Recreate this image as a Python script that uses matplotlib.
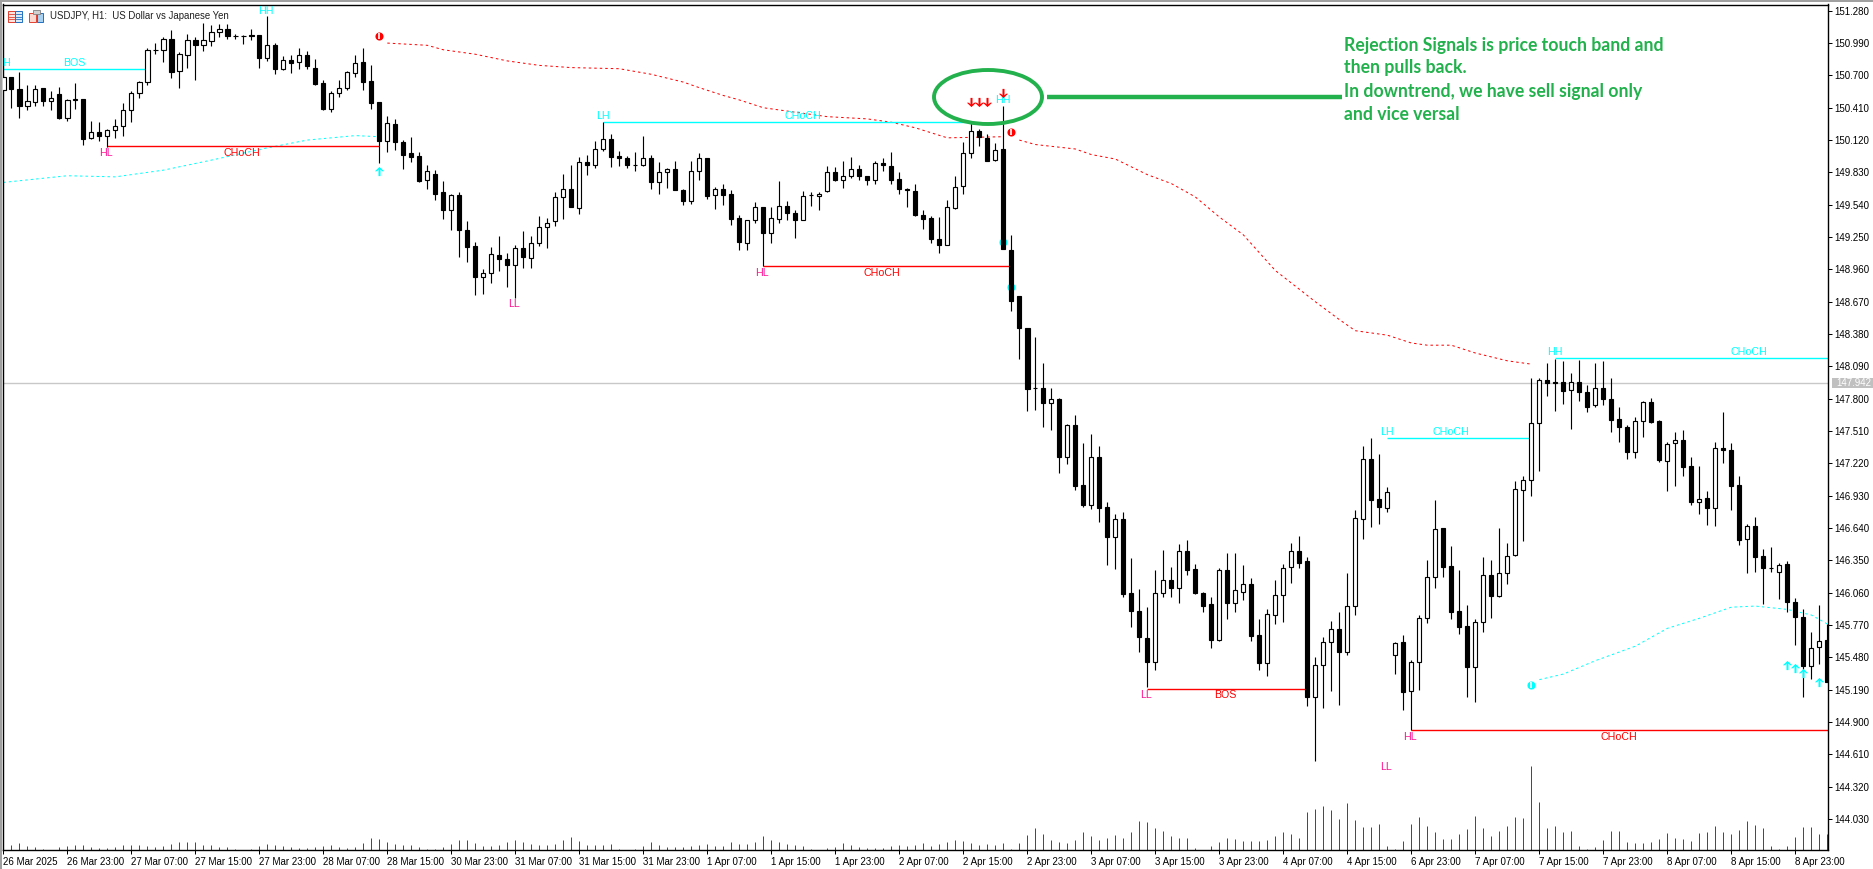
import numpy as np
import matplotlib
matplotlib.use('Agg')
import matplotlib.pyplot as plt
from matplotlib.patches import Ellipse, Rectangle

# candles, USDJPY H1
opens = [150.57,150.69,150.58,150.43,150.46,150.59,150.47,150.53,150.32,150.48,
         150.49,150.14,150.19,150.16,150.21,150.25,150.39,150.54,150.64,150.93,
         150.93,151.03,150.74,150.88,151.02,150.97,151.01,151.09,151.12,151.05,
         151.05,151.06,151.06,150.86,150.97,150.76,150.84,150.82,150.88,150.77,
         150.63,150.40,150.54,150.59,150.72,150.82,150.65,150.46,150.11,150.26,
         150.10,150.00,149.98,149.76,149.82,149.65,149.49,149.63,149.31,149.17,
         148.89,148.93,149.09,149.05,149.00,149.15,149.06,149.20,149.34,149.39,
         149.61,149.68,149.51,149.92,149.90,150.04,150.13,149.98,149.96,149.90,
         149.90,149.96,149.74,149.83,149.86,149.67,149.57,149.84,149.96,149.63,
         149.68,149.64,149.42,149.20,149.40,149.52,149.29,149.41,149.53,149.47,
         149.40,149.63,149.62,149.66,149.83,149.76,149.80,149.86,149.80,149.76,
         149.91,149.89,149.77,149.68,149.66,149.45,149.42,149.23,149.18,149.51,
         149.71,150.00,150.20,150.14,149.94,150.04,149.13,148.72,148.43,147.90,
         147.90,147.76,147.80,147.28,147.56,147.03,146.85,147.28,146.83,146.56,
         146.72,146.06,145.90,145.65,145.44,146.06,146.17,146.10,146.43,146.27,
         146.06,145.96,145.64,146.26,145.97,146.07,146.14,145.68,145.43,145.86,
         146.04,146.29,146.43,146.34,145.12,145.41,145.62,145.73,145.53,145.94,
         146.72,147.26,146.90,146.82,145.50,145.62,145.18,145.44,145.83,146.20,
         146.64,146.30,145.90,145.76,145.39,145.80,146.22,146.03,146.24,146.40,
         146.98,147.07,147.58,147.97,147.95,147.95,147.88,147.95,147.86,147.74,
         147.90,147.80,147.62,147.55,147.32,147.60,147.77,147.60,147.24,147.40,
         147.43,147.20,146.87,146.91,146.82,147.36,147.34,147.03,146.54,146.66,
         146.39,146.28,146.25,146.32,145.98,145.84,145.40,145.57,145.64]
highs = [150.70,150.69,150.73,150.61,150.61,150.59,150.56,150.60,150.49,150.63,
         150.49,150.29,150.28,150.22,150.31,150.45,150.56,150.65,150.95,150.99,
         151.04,151.11,150.91,151.07,151.04,151.17,151.15,151.16,151.16,151.07,
         151.06,151.12,151.06,151.23,150.99,150.87,150.88,150.95,150.92,150.85,
         150.66,150.56,150.66,150.74,150.88,150.95,150.79,150.46,150.34,150.31,
         150.12,150.15,150.01,149.90,149.85,149.75,149.64,149.65,149.39,149.21,
         148.96,149.16,149.26,149.11,149.18,149.30,149.26,149.44,149.42,149.65,
         149.82,149.90,149.97,149.99,150.11,150.28,150.17,150.02,149.98,150.01,
         150.16,149.99,149.92,149.87,149.93,149.68,149.93,150.00,149.96,149.70,
         149.73,149.67,149.45,149.40,149.56,149.52,149.52,149.75,149.57,149.49,
         149.66,149.65,149.65,149.89,149.88,149.93,149.97,149.90,149.80,149.93,
         149.96,150.01,149.83,149.69,149.73,149.49,149.44,149.43,149.58,149.80,
         150.10,150.27,150.22,150.17,150.09,150.43,149.27,148.72,148.43,148.35,
         148.12,147.90,147.81,147.57,147.65,147.40,147.48,147.38,146.87,146.77,
         146.78,146.37,146.09,145.93,146.26,146.44,146.29,146.50,146.53,146.32,
         146.07,146.02,146.28,146.42,146.42,146.31,146.19,145.82,145.91,146.17,
         146.32,146.51,146.57,146.38,145.48,145.66,145.81,145.89,146.24,146.80,
         147.38,147.45,147.30,147.01,145.62,145.68,145.46,145.86,146.35,146.89,
         146.64,146.48,146.26,145.95,145.82,146.38,146.35,146.64,146.51,147.06,
         147.11,147.99,147.99,148.12,148.16,148.14,148.03,148.15,147.92,148.12,
         148.14,147.99,147.73,147.56,147.64,147.78,147.81,147.61,147.41,147.50,
         147.52,147.28,147.20,146.97,147.41,147.68,147.40,147.11,146.68,146.74,
         146.45,146.47,146.33,146.34,146.01,145.91,145.71,145.95,145.78]
lows = [150.56,150.41,150.32,150.39,150.43,150.43,150.39,150.31,150.29,150.40,
        150.08,150.13,150.11,150.06,150.14,150.16,150.28,150.50,150.61,150.89,
        150.82,150.68,150.59,150.77,150.66,150.92,150.96,151.04,151.03,151.03,
        150.98,151.02,150.77,150.83,150.71,150.75,150.72,150.76,150.76,150.61,
        150.39,150.37,150.51,150.57,150.69,150.57,150.40,149.91,150.01,150.03,
        149.86,149.92,149.74,149.68,149.58,149.41,149.31,149.07,149.03,148.73,
        148.74,148.84,148.95,148.80,148.70,148.97,148.97,149.17,149.15,149.35,
        149.41,149.52,149.46,149.81,149.87,150.02,149.88,149.89,149.87,149.84,
        149.89,149.68,149.64,149.69,149.67,149.54,149.55,149.76,149.59,149.50,
        149.54,149.36,149.13,149.13,149.38,148.99,149.20,149.38,149.40,149.24,
        149.40,149.53,149.49,149.65,149.75,149.69,149.78,149.76,149.72,149.73,
        149.84,149.73,149.64,149.52,149.44,149.32,149.20,149.11,149.18,149.50,
        149.64,149.96,150.07,149.93,149.93,149.14,148.59,148.16,147.69,147.70,
        147.55,147.52,147.13,147.21,146.98,146.83,146.81,146.69,146.31,146.27,
        146.02,145.75,145.53,145.21,145.37,146.02,146.02,145.97,146.22,146.05,
        145.89,145.56,145.63,145.82,145.89,145.99,145.63,145.37,145.31,145.78,
        145.80,146.15,146.28,145.04,144.55,145.03,145.18,145.05,145.50,145.86,
        146.54,146.65,146.68,146.78,145.33,145.01,144.83,145.19,145.79,146.10,
        146.20,145.82,145.69,145.12,145.08,145.71,145.83,146.02,146.14,146.39,
        146.52,146.93,147.15,147.82,147.69,147.75,147.53,147.78,147.68,147.73,
        147.74,147.50,147.41,147.26,147.27,147.46,147.58,147.23,146.97,147.02,
        147.11,146.85,146.77,146.67,146.66,147.22,146.80,146.49,146.24,146.25,
        145.96,146.25,146.00,145.89,145.59,145.12,145.29,145.42,145.26]
closes = [150.69,150.58,150.43,150.47,150.58,150.47,150.50,150.32,150.48,150.49,
          150.13,150.19,150.16,150.21,150.25,150.39,150.54,150.64,150.93,150.93,
          151.03,150.73,150.89,151.02,150.97,151.02,151.09,151.12,151.05,151.05,
          151.05,151.05,150.86,150.97,150.76,150.84,150.81,150.88,150.78,150.62,
          150.40,150.54,150.59,150.73,150.81,150.64,150.45,150.11,150.27,150.10,
          149.99,149.97,149.75,149.84,149.64,149.49,149.63,149.31,149.16,148.89,
          148.93,149.10,149.05,149.00,149.15,149.07,149.20,149.34,149.38,149.61,
          149.68,149.52,149.92,149.90,150.04,150.13,149.97,149.96,149.90,149.90,
          149.96,149.74,149.83,149.86,149.67,149.57,149.84,149.96,149.62,149.68,
          149.63,149.41,149.21,149.40,149.52,149.29,149.42,149.53,149.47,149.40,
          149.62,149.63,149.64,149.83,149.76,149.80,149.86,149.80,149.76,149.91,
          149.90,149.76,149.68,149.67,149.45,149.41,149.23,149.18,149.52,149.70,
          150.00,150.20,150.15,149.93,150.03,149.14,148.68,148.43,147.89,147.90,
          147.76,147.80,147.28,147.56,147.02,146.85,147.28,146.82,146.56,146.72,
          146.05,145.90,145.66,145.44,146.06,146.17,146.10,146.43,146.26,146.06,
          145.94,145.64,146.26,145.97,146.08,146.14,145.67,145.43,145.87,146.04,
          146.28,146.43,146.33,145.12,145.41,145.62,145.73,145.53,145.94,146.73,
          147.26,146.89,146.83,146.96,145.61,145.17,145.44,145.83,146.20,146.63,
          146.29,145.89,145.75,145.39,145.80,146.22,146.03,146.24,146.39,146.99,
          147.07,147.58,147.97,147.94,147.94,147.87,147.95,147.86,147.73,147.90,
          147.80,147.61,147.55,147.32,147.60,147.77,147.59,147.25,147.39,147.43,
          147.19,146.87,146.90,146.82,147.36,147.34,147.02,146.53,146.66,146.38,
          146.28,146.28,146.31,145.98,145.84,145.40,145.56,145.63,145.26]
volumes = [0,16,22,13,9,4,0,10,12,16,
           16,10,7,6,9,14,16,16,11,10,
           11,19,25,25,23,16,16,10,9,3,
           1,4,11,19,16,11,10,7,6,10,
           13,16,9,7,10,21,37,34,25,18,
           16,14,10,3,3,10,19,30,29,22,
           13,13,16,25,31,25,19,15,16,19,
           31,40,28,16,16,16,19,3,1,3,
           13,25,16,10,10,10,13,16,19,13,
           13,25,19,19,25,43,31,25,19,16,
           13,3,1,6,10,22,16,10,7,7,
           7,13,16,13,16,22,13,19,25,31,
           28,22,16,19,16,22,4,22,46,67,
           49,31,25,22,31,55,43,31,37,46,
           37,55,88,85,67,58,43,37,37,7,
           0,13,25,37,34,28,28,28,31,43,
           55,49,37,115,124,133,121,94,142,91,
           70,70,79,13,4,28,79,100,73,55,
           34,34,49,64,103,67,43,58,73,100,
           97,252,145,67,73,55,58,13,4,10,
           31,58,58,25,22,22,25,34,52,37,
           34,28,52,55,73,55,49,61,88,76,
           67,13,2,13,40,70,70,49,49]

# bands, (bar, price) as read
red_band1_x = [48,53,55,59,63,67,71,77,81,85,87,90,92,95,99,103,108,111,114,118,125]
red_band1_y = [150.99,150.97,150.93,150.89,150.83,150.79,150.77,150.76,150.71,150.64,150.59,
               150.52,150.48,150.41,150.37,150.33,150.31,150.28,150.23,150.14,150.15]
red_band2_x = [127,129,134,136,139,143,146,149,152,155,159,164,167,169,173,176,178,181,184,188,191]
red_band2_y = [150.12,150.08,150.04,149.99,149.95,149.81,149.73,149.61,149.43,149.27,148.95,
               148.67,148.51,148.41,148.37,148.30,148.28,148.28,148.21,148.14,148.11]
cyan_band1_x = [0,8,14,20,26,33,38,44,47]
cyan_band1_y = [149.74,149.80,149.79,149.85,149.94,150.05,150.12,150.16,150.15]
cyan_band2_x = [192,195,199,204,208,212,216,219,223,226,228]
cyan_band2_y = [145.28,145.33,145.45,145.58,145.74,145.83,145.93,145.94,145.91,145.86,145.78]

# structure lines: start bar, end bar, price, colour
struct_lines = [(-1, 18, 150.755, '#00ffff'), (13, 47, 150.064, '#ff0000'),
                (75, 121, 150.279, '#00ffff'), (95, 126, 148.99, '#ff0000'),
                (143, 163, 145.20, '#ff0000'), (176, 229, 144.83, '#ff0000'),
                (173, 191, 147.447, '#00ffff'), (194, 229, 148.162, '#00ffff')]
# labels: bar, price, text, colour
struct_labels = [(0.3, 150.81, 'H', '#00ffff'), (8.9, 150.81, 'BOS', '#00ffff'),
                 (32.8, 151.28, 'HH', '#00ffff'), (12.8, 150.0, 'HL', '#ff1493'),
                 (29.8, 150.0, 'CHoCH', '#ff0000'), (63.9, 148.65, 'LL', '#ff1493'),
                 (74.9, 150.335, 'LH', '#00ffff'), (99.9, 150.335, 'CHoCH', '#00ffff'),
                 (94.8, 148.93, 'HL', '#ff1493'), (109.8, 148.93, 'CHoCH', '#ff0000'),
                 (124.9, 150.48, 'HH', '#00ffff'), (142.8, 145.14, 'LL', '#ff1493'),
                 (152.8, 145.14, 'BOS', '#ff0000'), (172.9, 144.50, 'LL', '#ff1493'),
                 (175.8, 144.765, 'HL', '#ff1493'), (201.9, 144.765, 'CHoCH', '#ff0000'),
                 (172.9, 147.50, 'LH', '#00ffff'), (180.9, 147.50, 'CHoCH', '#00ffff'),
                 (193.9, 148.22, 'HH', '#00ffff'), (218.2, 148.22, 'CHoCH', '#00ffff')]

up_arrow_x = [47, 223, 224, 225, 227]
up_arrow_y = [149.84, 145.41, 145.385, 145.34, 145.26]
down_arrow_x = [121, 122, 123, 125]
down_arrow_y = [150.46, 150.46, 150.46, 150.54]
red_dot_x = [47, 126]
red_dot_y = [151.05, 150.19]
cyan_dot_x = [125, 126, 191]
cyan_dot_y = [149.21, 148.80, 145.23]

price_ticks = [151.28,150.99,150.70,150.41,150.12,149.83,149.54,149.25,148.96,148.67,148.38,148.09,147.80,
               147.51,147.22,146.93,146.64,146.35,146.06,145.77,145.48,145.19,144.90,144.61,144.32,144.03]
time_labels = ['26 Mar 2025','26 Mar 23:00','27 Mar 07:00','27 Mar 15:00','27 Mar 23:00','28 Mar 07:00',
               '28 Mar 15:00','30 Mar 23:00','31 Mar 07:00','31 Mar 15:00','31 Mar 23:00','1 Apr 07:00',
               '1 Apr 15:00','1 Apr 23:00','2 Apr 07:00','2 Apr 15:00','2 Apr 23:00','3 Apr 07:00',
               '3 Apr 15:00','3 Apr 23:00','4 Apr 07:00','4 Apr 15:00','6 Apr 23:00','7 Apr 07:00',
               '7 Apr 15:00','7 Apr 23:00','8 Apr 07:00','8 Apr 15:00','8 Apr 23:00']
last_price = 147.942
note_lines = ['Rejection Signals is price touch band and', 'then pulls back.',
              'In downtrend, we have sell signal only', 'and vice versal']

W, H = 1873, 869
LW = 0.72  # 1 px at dpi 100
plt.rcParams['font.family'] = ['Liberation Sans', 'DejaVu Sans']

# arrow shape for the signal markers
arrow_up = [(-1, 0.05), (0, 1), (1, 0.05), (0.55, 0.05), (0.22, 0.4), (0.22, -1),
            (-0.22, -1), (-0.22, 0.4), (-0.55, 0.05)]
arrow_down = [(vx, -vy) for vx, vy in arrow_up]

fig = plt.figure(figsize=(W / 100, H / 100), dpi=100, facecolor='white')

# axes box in pixels
left, right, top, bottom = 3, 1828, 4.5, 850
rect = [left / W, 1 - bottom / H, (right - left) / W, (bottom - top) / H]

ax_vol = fig.add_axes(rect, zorder=1)
ax = fig.add_axes(rect, zorder=2, sharex=ax_vol)
ax.patch.set_visible(False)

x = np.arange(len(opens))
o, h, l, c = map(np.array, (opens, highs, lows, closes))

# volumes on their own scale
ax_vol.vlines(x, 0, volumes, color='#008000', lw=LW)
ax_vol.set_ylim(0, 2537)
ax_vol.set_yticks([])
ax_vol.tick_params(labelbottom=False, bottom=False)
for s in ax_vol.spines.values():
    s.set_visible(False)

# bands and structure go under the candles
for bx, by, col in [(red_band1_x, red_band1_y, '#ff0000'), (red_band2_x, red_band2_y, '#ff0000'),
                    (cyan_band1_x, cyan_band1_y, '#00ffff'), (cyan_band2_x, cyan_band2_y, '#00ffff')]:
    ax.plot(bx, by, color=col, lw=LW, dashes=(2.5, 3), zorder=1)
for x0, x1, p, col in struct_lines:
    ax.plot([x0, x1], [p, p], color=col, lw=1.0, zorder=1, solid_capstyle='butt')
ax.axhline(last_price, color='#c8c8c8', lw=1.0, zorder=1)

ax.scatter(cyan_dot_x, cyan_dot_y, s=34, color='#00ffff', lw=0, zorder=2)
ax.scatter(red_dot_x, red_dot_y, s=34, color='#ff0000', lw=0, zorder=2)
ax.scatter(cyan_dot_x[2:], cyan_dot_y[2:], s=16, marker='|', color='white', lw=1.2, zorder=6)
ax.scatter(red_dot_x, red_dot_y, s=16, marker='|', color='white', lw=1.2, zorder=6)

# candles
ax.vlines(x, l, h, color='black', lw=LW + 0.1, zorder=3)
up = c >= o
ax.bar(x[up], (c - o)[up], bottom=o[up], width=0.55, facecolor='white', edgecolor='black', lw=LW + 0.1, zorder=4)
ax.bar(x[~up], (c - o)[~up], bottom=o[~up], width=0.55, facecolor='black', edgecolor='black', lw=LW + 0.1, zorder=4)

for bar, p, txt, col in struct_labels:
    ax.text(bar, p, txt, color=col, fontsize=7.7, ha='center', va='center', zorder=5, clip_on=True)

ax.scatter(up_arrow_x, up_arrow_y, s=44, marker=arrow_up, color='#00ffff', lw=0, zorder=5)
ax.scatter(down_arrow_x, down_arrow_y, s=44, marker=arrow_down, color='#ff0000', lw=0, zorder=5)

ax.set_xlim((left - 3.3) / 8, (right - 3.3) / 8)
ax.set_ylim(143.752, 151.336)

ax.yaxis.tick_right()
ax.set_yticks(price_ticks)
ax.set_yticklabels(['%.3f' % p for p in price_ticks])
ax.set_xticks(np.arange(len(time_labels)) * 8)
ax.set_xticklabels(time_labels, ha='left')
ax.tick_params(axis='both', length=3.2, width=LW, labelsize=7, pad=1.5, color='black')
for s in ax.spines.values():
    s.set_linewidth(1.0)

# overlay in pixel coordinates for the hand drawn note and window bits
ov = fig.add_axes([0, 0, 1, 1], zorder=10)
ov.set_xlim(0, W)
ov.set_ylim(H, 0)
ov.axis('off')

ov.add_patch(Rectangle((0, 0), W, 2, facecolor='#a0a0a0', lw=0))
ov.add_patch(Rectangle((0, 0), 2, H, facecolor='#a0a0a0', lw=0))

ov.add_patch(Ellipse((988, 97), 108, 54, facecolor='none', edgecolor='#22b14c', lw=2.8))
ov.plot([1047, 1342], [96.5, 96.5], color='#22b14c', lw=3.2, solid_capstyle='butt')
for line_y, line in zip([45, 68, 91, 114], note_lines):
    ov.text(1344, line_y, line, color='#22b14c', fontsize=12.7, fontweight='bold', family='Lato',
            ha='left', va='center')

# price tag at the right end of the last price line
ov.add_patch(Rectangle((1832, 378), 41, 10, facecolor='#c0c0c0', lw=0))
ov.text(1836, 383, '%.3f' % last_price, color='white', fontsize=7, ha='left', va='center')

# chart title and the two toolbar icons
ov.text(50, 16, 'USDJPY, H1:  US Dollar vs Japanese Yen', color='#202020', fontsize=6.9, ha='left', va='center')
ov.add_patch(Rectangle((8.5, 11), 6.5, 11, facecolor='#fbe3e0', edgecolor='#e04030', lw=0.7))
ov.add_patch(Rectangle((15, 11), 7, 11, facecolor='#dcebf8', edgecolor='#2070c0', lw=0.7))
for yy in [14, 16.5, 19]:
    ov.plot([9.5, 14], [yy, yy], color='#e04030', lw=0.6)
    ov.plot([16, 21], [yy, yy], color='#2070c0', lw=0.6)
ov.add_patch(Rectangle((29.5, 13), 6.5, 9, facecolor='#fbd8d0', edgecolor='#e04030', lw=0.7))
ov.add_patch(Rectangle((37, 13), 6.5, 9, facecolor='#a8d0f0', edgecolor='#2070c0', lw=0.7))
ov.add_patch(Rectangle((33, 10), 7, 3.5, facecolor='#d0d0d0', edgecolor='#808080', lw=0.6))

fig.savefig('out.png', dpi=100)
